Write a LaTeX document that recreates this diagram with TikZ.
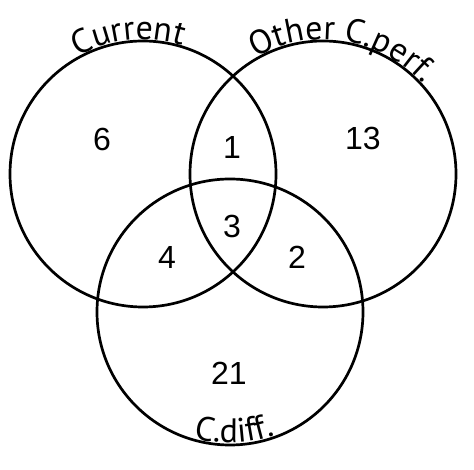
\documentclass[tikz,border=0pt]{standalone}
\usepackage{fontspec}
\setmainfont{Liberation Sans}
\newfontfamily\arcfont{PT Sans}
\usetikzlibrary{positioning,decorations.text}

\tikzset{
  venn/.style={draw, circle, line width=2.7pt, minimum size=266pt, inner sep=0pt},
  count/.style={font=\fontsize{32}{38}\selectfont},
  arclabel/.style={decorate, decoration={text along path, text align=center,
      text={|\arcfont\fontsize{34}{40}\selectfont|#1}}}
}

\begin{document}
\begin{tikzpicture}[x=1pt, y=1pt]
    \useasboundingbox (0,0) rectangle (474,470);

    % Sets
    \node[venn] (cur) at (143,296) {};
    \node[venn] (oth) at (323,296) {};
    \node[venn] (cdf) at (230,158) {};

    % Set names along the rims
    \path[arclabel={Current}] ([shift={(136:134.5pt)}]cur.center) arc (136:56:134.5pt);
    \path[arclabel={Other C.perf.}] ([shift={(131:134.5pt)}]oth.center) arc (131:31:134.5pt);
    \path[arclabel={C.diff.}] ([shift={(242:131pt)}]cdf.center) arc (242:302:131pt);

    % Counts
    \foreach \n/\x/\y in {6/102/331, 1/232/322, 13/363/332, 3/232/244, 4/167/213, 2/297/213, 21/229/97}
        \node[count] (n\n) at (\x,\y) {\n};
\end{tikzpicture}
\end{document}
